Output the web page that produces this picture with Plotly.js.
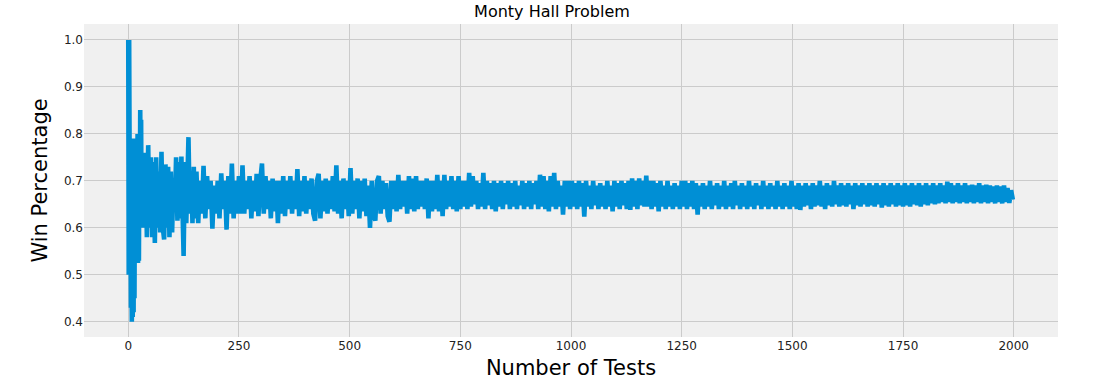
<!DOCTYPE html>
<html>
<head>
<meta charset="utf-8">
<script src="https://cdn.plot.ly/plotly-3.0.1.min.js"></script>
<style>html,body{margin:0;padding:0;background:#fff;}#chart{width:1104px;height:389px;}</style>
</head>
<body>
<div id="chart"></div>
<script>
const chartTitle = "Monty Hall Problem";
const xLabel = "Number of Tests";
const yLabel = "Win Percentage";
const xTickVals = [0, 250, 500, 750, 1000, 1250, 1500, 1750, 2000];
const yTickVals = [0.4, 0.5, 0.6, 0.7, 0.8, 0.9, 1.0];
const yTickText = ["0.4", "0.5", "0.6", "0.7", "0.8", "0.9", "1.0"];

const testsEarly = [0,1,2,3,4,5,6,7,8,9,10,11,12,13,14,15,16,17,18,19,20,21,22,23,24,25,26,27,28,29,30];
const winsEarly = [1.0,0.5,1.0,0.75,0.5,0.67,0.43,0.57,0.4,0.6,0.41,0.79,0.42,0.77,0.45,0.7,0.53,0.78,0.55,0.79,0.53,0.8,0.525,0.77,0.53,0.75,0.62,0.851,0.6,0.83,0.62];

const testsMid = [33,36,39,42,45,48,51,54,57,60,63,66,69,72,75,78,81,84,87,90,93,96,99,102,105,108,111,114,117,120,123,125,128,131,134,136,139,142,145,148];
const winsMid = [0.74,0.6,0.76,0.58,0.776,0.6,0.75,0.58,0.74,0.568,0.75,0.6,0.72,0.59,0.762,0.6,0.575,0.735,0.6,0.73,0.58,0.72,0.59,0.70,0.64,0.75,0.615,0.74,0.62,0.752,0.62,0.54,0.74,0.61,0.72,0.793,0.63,0.72,0.61,0.73];

const testsA = [150,154,158,162,166,170,174,178,182,186,190,194,198,202,206,210,214,218,222,226,230,234,238,242,246];
const winsA = [0.62,0.72,0.61,0.70,0.63,0.732,0.62,0.71,0.64,0.70,0.598,0.69,0.63,0.70,0.62,0.716,0.64,0.70,0.596,0.71,0.63,0.737,0.62,0.70,0.63];

const testsB = [250,254,258,262,266,270,274,278,282,286,290,294,298,302,306,310,314,318,322,326,330,334,338,342,346,350,354,358,362,366,370,374,378,382,386,390,394,398,402,406,410,414,418,422,426,430,434,438,442,446,450,454,458,462,466,470,474,478,482,486,490,494,498];
const winsB = [0.71,0.63,0.733,0.63,0.70,0.64,0.71,0.62,0.70,0.635,0.715,0.625,0.70,0.737,0.63,0.71,0.64,0.70,0.62,0.705,0.635,0.70,0.61,0.70,0.63,0.71,0.625,0.70,0.64,0.71,0.63,0.70,0.64,0.725,0.625,0.70,0.635,0.71,0.63,0.70,0.64,0.705,0.63,0.615,0.70,0.715,0.62,0.70,0.635,0.705,0.63,0.70,0.64,0.71,0.635,0.733,0.63,0.70,0.62,0.705,0.64,0.70,0.625];

const testsC = [502,506,510,514,518,522,526,530,534,538,542,546,550,554,558,562,566,570,574,578,582,586,590,594,598,602,606,610,614,618,622,626,630,634,638,642,646,650,654,658,662,666,670,674,678,682,686,690,694,698,702,706,710,714,718,722,726,730,734,738,742,746,750];
const winsC = [0.727,0.63,0.70,0.64,0.705,0.62,0.70,0.635,0.705,0.625,0.69,0.60,0.70,0.63,0.615,0.70,0.71,0.63,0.70,0.64,0.695,0.625,0.613,0.70,0.64,0.70,0.635,0.713,0.64,0.70,0.645,0.70,0.63,0.71,0.64,0.705,0.635,0.71,0.64,0.70,0.645,0.70,0.64,0.705,0.62,0.70,0.635,0.70,0.64,0.713,0.635,0.70,0.625,0.713,0.64,0.70,0.645,0.71,0.64,0.70,0.635,0.71,0.64];

const testsD = [754,758,762,766,770,774,778,782,786,790,794,798,802,806,810,814,818,822,826,830,834,838,842,846,850,854,858,862,866,870,874,878,882,886,890,894,898,902,906,910,914,918,922,926,930,934,938,942,946,950,954,958,962,966,970,974,978,982,986,990,994,998];
const winsD = [0.70,0.645,0.70,0.64,0.717,0.645,0.71,0.65,0.70,0.64,0.695,0.645,0.717,0.64,0.70,0.648,0.695,0.64,0.70,0.635,0.695,0.645,0.70,0.64,0.695,0.65,0.70,0.64,0.695,0.645,0.70,0.64,0.69,0.648,0.70,0.64,0.695,0.645,0.70,0.64,0.695,0.65,0.70,0.64,0.713,0.645,0.71,0.64,0.70,0.635,0.71,0.645,0.717,0.64,0.70,0.645,0.69,0.628,0.70,0.645,0.70,0.64];

const testsE = [1002,1006,1010,1014,1018,1022,1026,1030,1034,1038,1042,1046,1050,1054,1058,1062,1066,1070,1074,1078,1082,1086,1090,1094,1098,1102,1106,1110,1114,1118,1122,1126,1130,1134,1138,1142,1146,1150,1154,1158,1162,1166,1170,1174,1178,1182,1186,1190,1194,1198,1202,1206,1210,1214,1218,1222,1226,1230,1234,1238,1242,1246,1250];
const winsE = [0.70,0.645,0.695,0.64,0.70,0.645,0.695,0.624,0.70,0.645,0.69,0.64,0.70,0.648,0.69,0.64,0.695,0.645,0.69,0.64,0.70,0.645,0.69,0.635,0.70,0.645,0.695,0.64,0.70,0.648,0.695,0.64,0.70,0.638,0.705,0.645,0.70,0.64,0.705,0.648,0.70,0.645,0.711,0.645,0.70,0.64,0.70,0.645,0.695,0.635,0.70,0.645,0.69,0.64,0.70,0.645,0.69,0.64,0.695,0.645,0.69,0.64,0.70];

const testsF = [1254,1258,1262,1266,1270,1274,1278,1282,1286,1290,1294,1298,1302,1306,1310,1314,1318,1322,1326,1330,1334,1338,1342,1346,1350,1354,1358,1362,1366,1370,1374,1378,1382,1386,1390,1394,1398,1402,1406,1410,1414,1418,1422,1426,1430,1434,1438,1442,1446,1450,1454,1458,1462,1466,1470,1474,1478,1482,1486,1490,1494,1498];
const winsF = [0.645,0.70,0.64,0.695,0.645,0.70,0.64,0.695,0.628,0.69,0.645,0.695,0.64,0.69,0.645,0.70,0.64,0.69,0.648,0.695,0.64,0.69,0.645,0.70,0.64,0.69,0.645,0.695,0.64,0.70,0.648,0.69,0.64,0.695,0.645,0.69,0.64,0.70,0.645,0.69,0.64,0.695,0.648,0.69,0.64,0.70,0.645,0.69,0.64,0.695,0.645,0.69,0.64,0.70,0.645,0.69,0.64,0.695,0.645,0.69,0.64,0.70];

const testsG = [1502,1506,1510,1514,1518,1522,1526,1530,1534,1538,1542,1546,1550,1554,1558,1562,1566,1570,1574,1578,1582,1586,1590,1594,1598,1602,1606,1610,1614,1618,1622,1626,1630,1634,1638,1642,1646,1650,1654,1658,1662,1666,1670,1674,1678,1682,1686,1690,1694,1698,1702,1706,1710,1714,1718,1722,1726,1730,1734,1738,1742,1746,1750];
const winsG = [0.645,0.69,0.64,0.695,0.638,0.69,0.645,0.695,0.648,0.69,0.64,0.695,0.645,0.69,0.648,0.70,0.645,0.69,0.64,0.695,0.648,0.69,0.645,0.70,0.65,0.69,0.645,0.695,0.648,0.69,0.645,0.695,0.65,0.69,0.64,0.695,0.648,0.69,0.645,0.695,0.65,0.69,0.645,0.695,0.648,0.69,0.645,0.695,0.65,0.69,0.643,0.695,0.648,0.69,0.645,0.695,0.65,0.69,0.645,0.695,0.648,0.69,0.645];

const testsH = [1754,1758,1762,1766,1770,1774,1778,1782,1786,1790,1794,1798,1802,1806,1810,1814,1818,1822,1826,1830,1834,1838,1842,1846,1850,1854,1858,1862,1866,1870,1874,1878,1882,1886,1890,1894,1898,1902,1906,1910,1914,1918,1922,1926,1930,1934,1938,1942,1946,1950,1954,1958,1962,1966,1970,1974,1978,1982,1986,1990,1994,1998];
const winsH = [0.695,0.648,0.69,0.645,0.695,0.65,0.69,0.648,0.695,0.645,0.69,0.65,0.695,0.648,0.69,0.652,0.695,0.65,0.69,0.652,0.695,0.655,0.69,0.652,0.698,0.655,0.695,0.652,0.69,0.655,0.695,0.652,0.69,0.655,0.695,0.652,0.69,0.655,0.692,0.652,0.69,0.655,0.695,0.652,0.69,0.655,0.692,0.652,0.69,0.655,0.688,0.652,0.69,0.655,0.688,0.652,0.69,0.655,0.685,0.653,0.68,0.66];

const tests = testsEarly.concat(testsMid, testsA, testsB, testsC, testsD, testsE, testsF, testsG, testsH);
const winPct = winsEarly.concat(winsMid, winsA, winsB, winsC, winsD, winsE, winsF, winsG, winsH);

const font = "DejaVu Sans, sans-serif";
const trace = {
  x: tests, y: winPct, type: "scatter", mode: "lines",
  line: {color: "#008fd5", width: 4.6, simplify: false},
  hoverinfo: "skip"
};
const layout = {
  width: 1104, height: 389,
  margin: {l: 84, r: 46, t: 24, b: 52},
  paper_bgcolor: "#ffffff",
  plot_bgcolor: "#f0f0f0",
  showlegend: false,
  font: {family: font, color: "#222", size: 12},
  title: {text: chartTitle, font: {family: font, size: 16, color: "#000"}, x: 0.5, xanchor: "center", y: 0.97, yanchor: "middle"},
  xaxis: {
    range: [-100, 2100], tickvals: xTickVals, ticktext: xTickVals.map(String),
    showgrid: true, gridcolor: "#cbcbcb", gridwidth: 1, zeroline: false, showline: false,
    ticks: "", tickfont: {family: font, size: 12, color: "#222"},
    title: {text: xLabel, font: {family: font, size: 21, color: "#000"}, standoff: 8}
  },
  yaxis: {
    range: [0.3675, 1.034], tickvals: yTickVals, ticktext: yTickText,
    showgrid: true, gridcolor: "#cbcbcb", gridwidth: 1, zeroline: false, showline: false,
    ticks: "", tickfont: {family: font, size: 12, color: "#222"},
    title: {text: yLabel, font: {family: font, size: 21, color: "#000"}, standoff: 10}
  }
};
Plotly.newPlot("chart", [trace], layout, {staticPlot: true, displayModeBar: false});
</script>
</body>
</html>
